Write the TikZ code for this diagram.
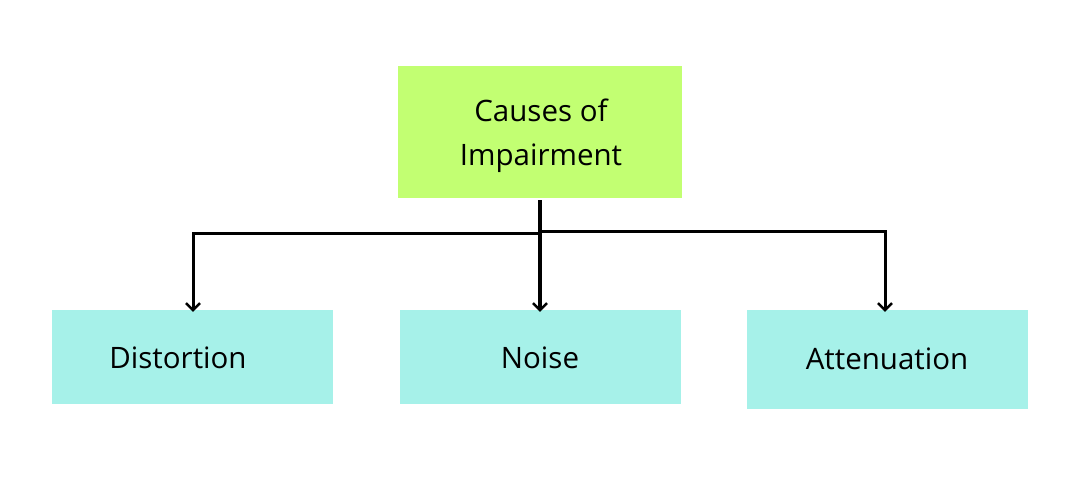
\documentclass[tikz,border=0pt]{standalone}
\usepackage{fontspec}
\setmainfont{Open Sans}
\usetikzlibrary{arrows.meta}
\definecolor{topgreen}{HTML}{C2FF72}
\definecolor{boxcyan}{HTML}{A6F1E9}
\begin{document}
\begin{tikzpicture}[x=1pt,y=-1pt,
  topbox/.style={fill=topgreen,inner sep=0pt,minimum width=284pt,minimum height=132pt},
  leafbox/.style={fill=boxcyan,inner sep=0pt,minimum width=281pt,minimum height=94pt},
  lbl/.style={inner sep=0pt,align=center,font=\fontsize{29.5}{44}\selectfont},
  conn/.style={line width=3pt,-{Straight Barb[length=7pt,width=14pt,line width=2.5pt]}}]
\useasboundingbox (0,0) rectangle (1078,496);
\node[topbox] (top) at (540,132) {};
\node[lbl] (toplbl) at (541,136) {Causes of\\Impairment};
\node[leafbox] (dist) at (192.5,357) {};
\node[lbl] (distlbl) at (178,358) {Distortion};
\node[leafbox] (noise) at (540,357) {};
\node[lbl] (noiselbl) at (540,358) {Noise};
\node[leafbox,minimum height=99pt] (att) at (887.5,359.5) {};
\node[lbl] (attlbl) at (887,359) {Attenuation};
\coordinate (jl) at (540,233);
\coordinate (jr) at (540,231);
\draw[conn,line width=3.5pt] ([yshift=-2pt]top.south) -- ([yshift=-2pt]noise.north);
\draw[conn] (jl) -| ([xshift=0.5pt,yshift=-2pt]dist.north);
\draw[conn] (jr) -| ([xshift=-2.5pt,yshift=-2pt]att.north);
\end{tikzpicture}
\end{document}
